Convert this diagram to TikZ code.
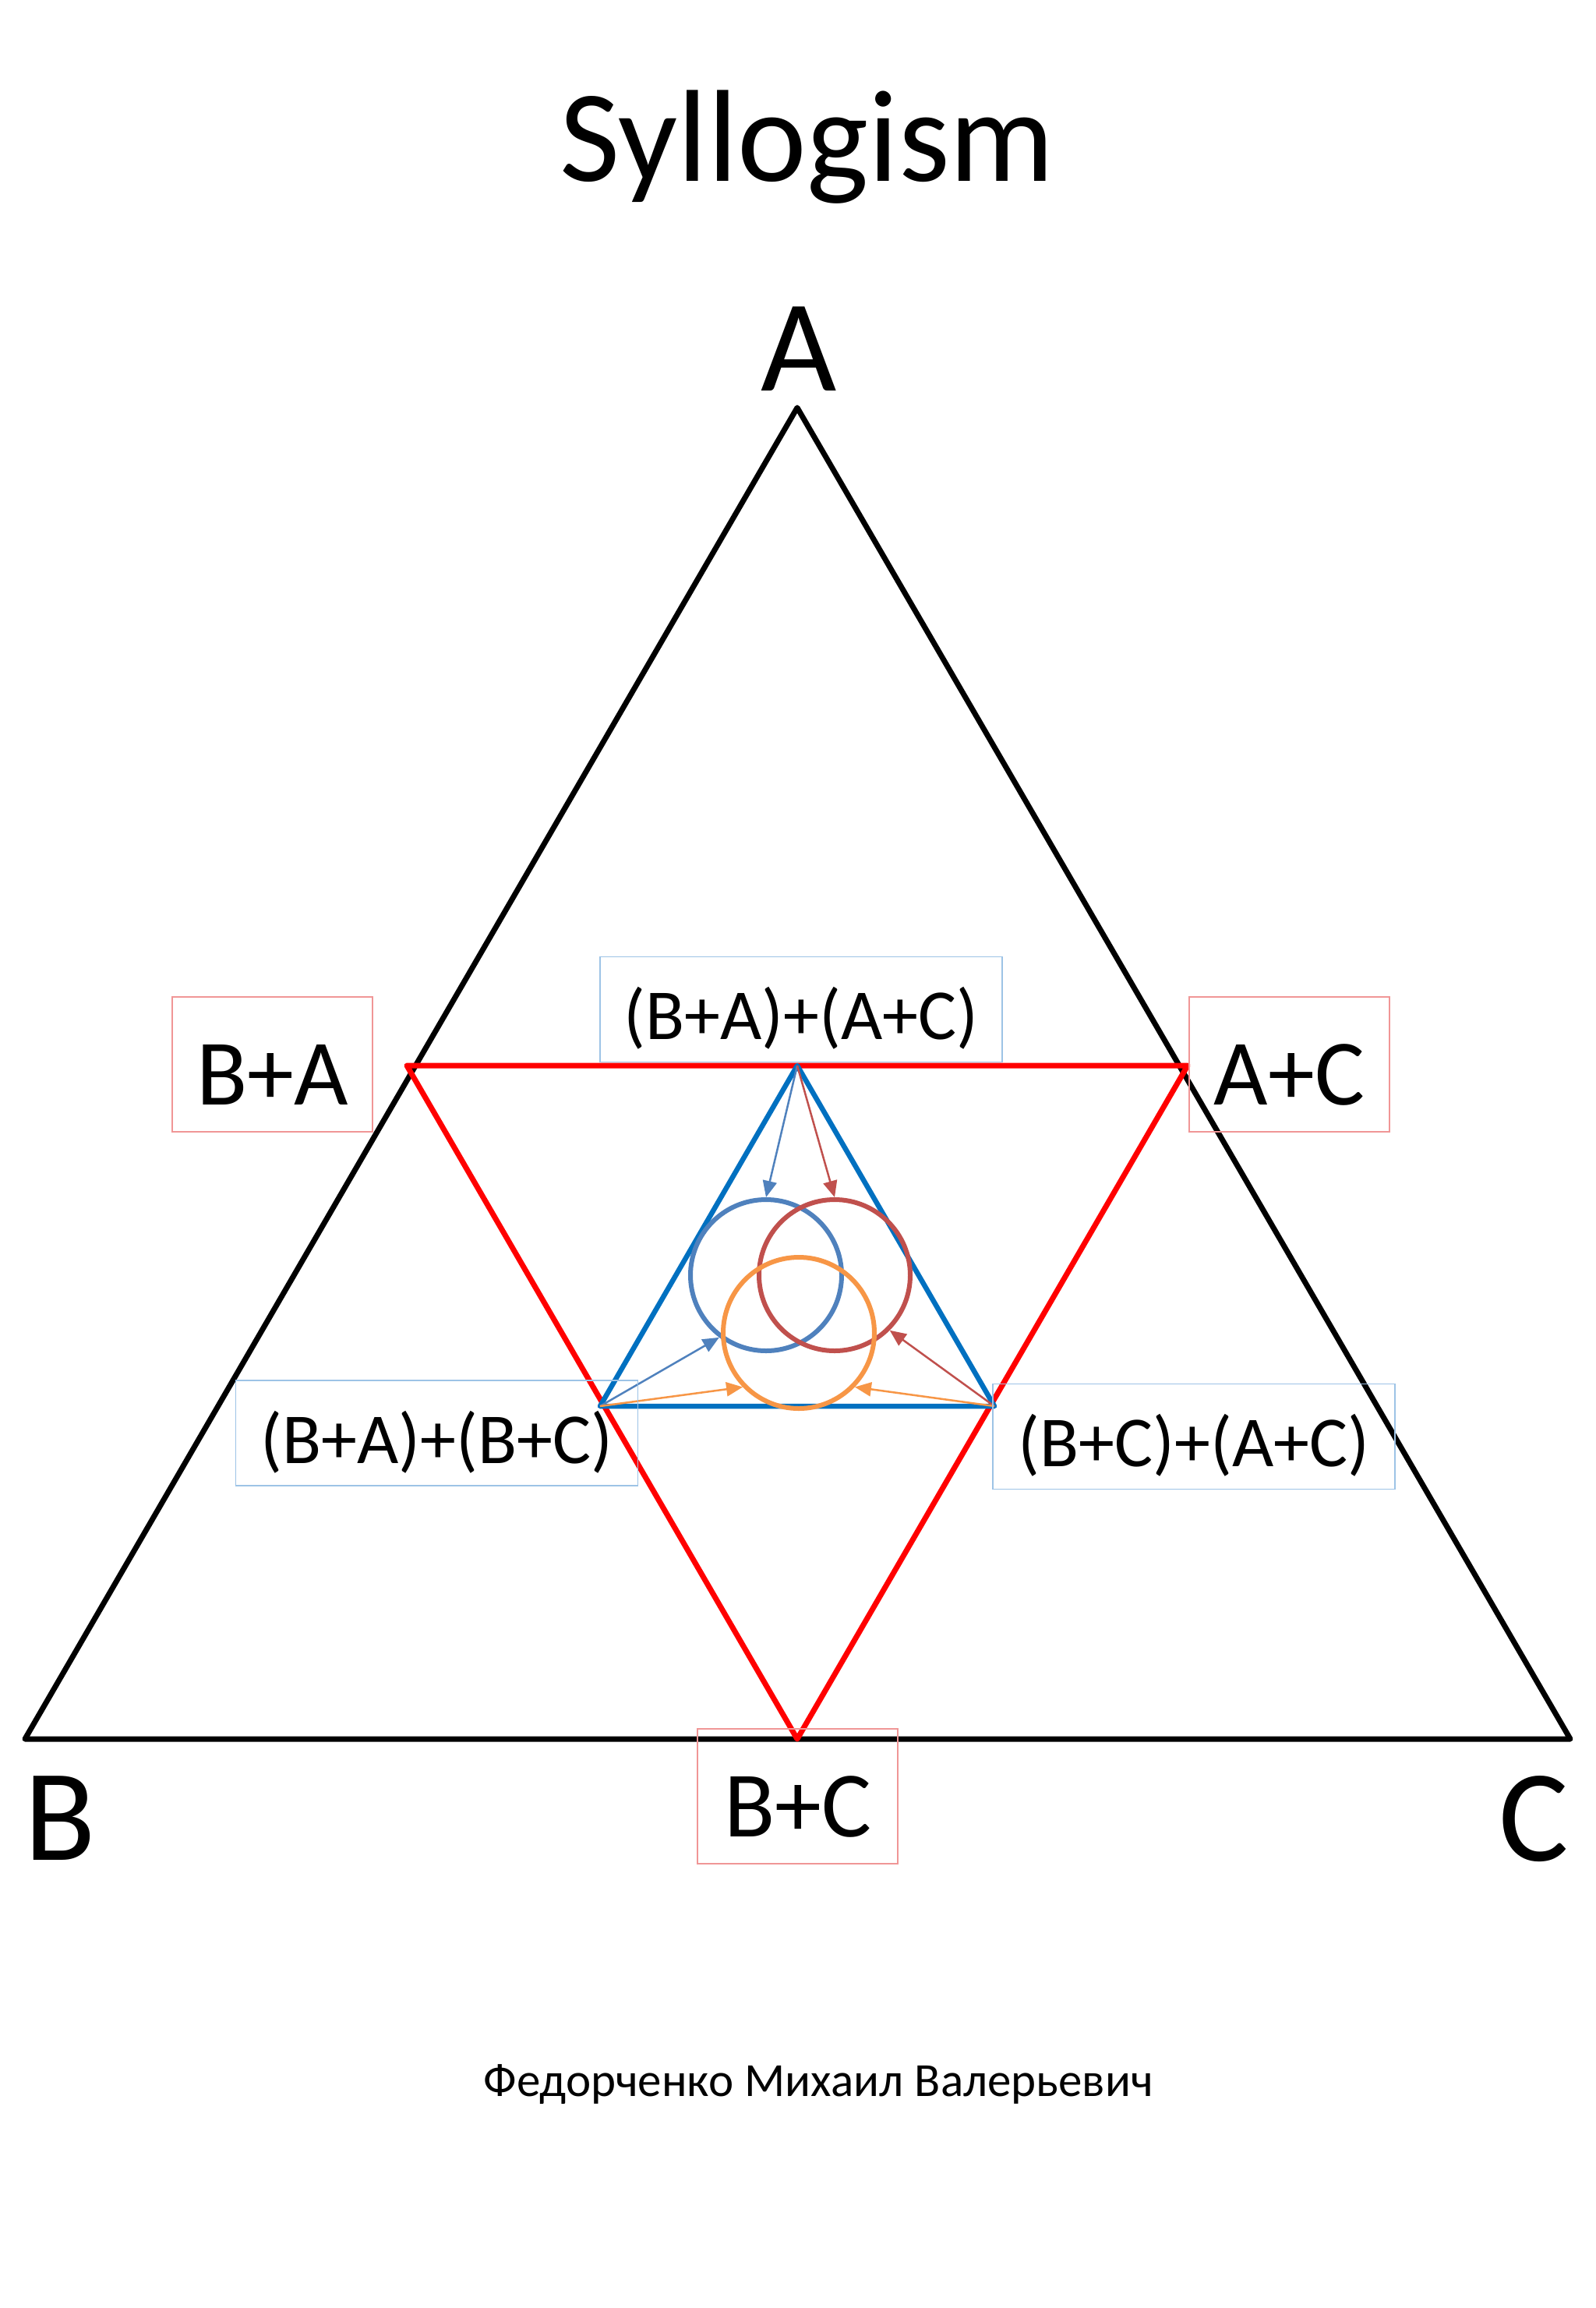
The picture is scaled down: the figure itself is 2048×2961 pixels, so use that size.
\documentclass[tikz,border=0pt]{standalone}
\usepackage{fontspec}
\setmainfont{Carlito}
\usetikzlibrary{arrows.meta}
\definecolor{triblue}{RGB}{0,112,192}
\definecolor{cblue}{RGB}{79,129,189}
\definecolor{cred}{RGB}{192,80,77}
\definecolor{corange}{RGB}{247,150,70}
\definecolor{pinkline}{RGB}{240,150,150}
\definecolor{lblue}{RGB}{157,195,230}
\begin{document}
\begin{tikzpicture}[x=1pt,y=-1pt,
  outertri/.style={draw=black,line width=7pt,line join=round},
  redtri/.style={draw=red,line width=7pt,line join=round},
  bluetri/.style={draw=triblue,line width=6.5pt,line join=round},
  ring/.style={circle,draw=#1,line width=6pt,minimum size=194pt,inner sep=0pt},
  arr/.style={draw=#1,line width=2.5pt,-{Triangle[length=21pt,width=18pt]}},
  bigletter/.style={font=\fontsize{168}{200}\selectfont,anchor=base,inner sep=0pt},
  pinkbox/.style={draw=pinkline,line width=1.8pt,inner sep=0pt,minimum width=257pt,minimum height=173pt,text height=103pt,text depth=0pt,font=\fontsize{120}{140}\selectfont},
  bluebox/.style={draw=lblue,line width=1.8pt,inner sep=0pt,minimum width=516pt,minimum height=135pt,text height=95pt,text depth=18pt,font=\fontsize{92}{110}\selectfont}]
\useasboundingbox (0,0) rectangle (2048,2961);
\fill[white] (0,0) rectangle (2048,2961);
% outer triangle
\coordinate (A) at (1023,523);
\coordinate (B) at (32,2231);
\coordinate (C) at (2015,2231);
\draw[outertri] (A) -- (B) -- (C) -- cycle;
% red triangle
\coordinate (RA) at (522,1367);
\coordinate (RC) at (1524,1367);
\coordinate (RB) at (1023,2231);
\draw[redtri] (RA) -- (RC) -- (RB) -- cycle;
% blue triangle
\coordinate (TA) at (1023,1367);
\coordinate (TL) at (770,1804);
\coordinate (TR) at (1276,1804);
\draw[bluetri] (TA) -- (TL) -- (TR) -- cycle;
% circles
\node[ring=cblue] (cb) at (983,1636) {};
\node[ring=cred] (cr) at (1071,1636) {};
\node[ring=corange] (co) at (1025,1710) {};
% arrows
\draw[arr=cblue] (TA) -- (cb.north);
\draw[arr=cred] (TA) -- (cr.north);
\draw[arr=cblue] (TL) -- (cb.233);
\draw[arr=corange] (TL) -- (co.224);
\draw[arr=cred] (TR) -- (cr.315);
\draw[arr=corange] (TR) -- (co.316);
% labels
\node[font=\fontsize{168}{200}\selectfont,anchor=base,inner sep=0pt] (title) at (1036,232) {Syllogism};
\node[bigletter] (lA) at (1025,501) {A};
\node[bigletter] (lB) at (77,2386) {B};
\node[bigletter] (lC) at (1968,2387) {C};
\node[pinkbox] (BA) at (349.5,1365.5) {B+A};
\node[pinkbox] (AC) at (1654.5,1365.5) {A+C};
\node[pinkbox] (BC) at (1023.5,2304.5) {B+C};
\node[bluebox] (top) at (1028,1295) {(B+A)+(A+C)};
\node[bluebox] (left) at (560.5,1838.5) {(B+A)+(B+C)};
\node[bluebox] (right) at (1532,1843) {(B+C)+(A+C)};
\node[font=\fontsize{61}{73}\selectfont,anchor=base,inner sep=0pt] (author) at (1050,2689) {Федорченко Михаил Валерьевич};
\end{tikzpicture}
\end{document}
